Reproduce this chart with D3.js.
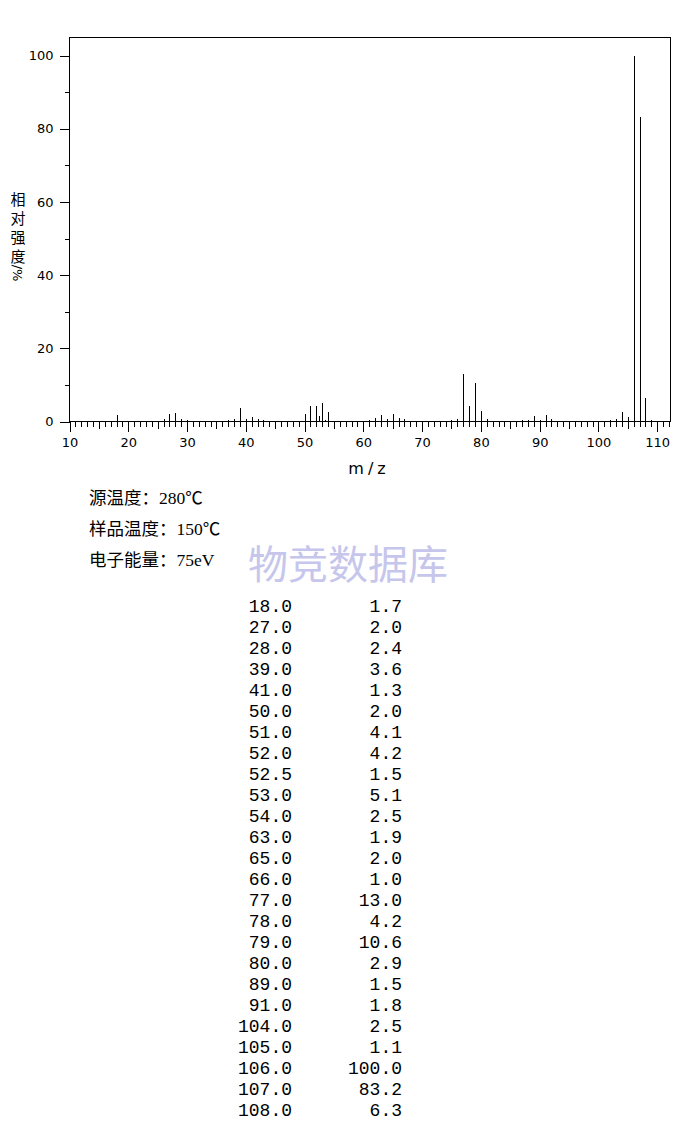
<!DOCTYPE html>
<html>
<head>
<meta charset="utf-8">
<script src="https://cdn.jsdelivr.net/npm/d3@7/dist/d3.min.js"></script>
<style>
  html, body { margin: 0; padding: 0; background: #fff; }
  svg { display: block; }
</style>
</head>
<body>
<svg id="chart" width="696" height="1134"></svg>
<script>
// ---- data ----
const tableMz = [18.0, 27.0, 28.0, 39.0, 41.0, 50.0, 51.0, 52.0, 52.5, 53.0, 54.0, 63.0, 65.0, 66.0, 77.0, 78.0, 79.0, 80.0, 89.0, 91.0, 104.0, 105.0, 106.0, 107.0, 108.0];
const tableIntensity = [1.7, 2.0, 2.4, 3.6, 1.3, 2.0, 4.1, 4.2, 1.5, 5.1, 2.5, 1.9, 2.0, 1.0, 13.0, 4.2, 10.6, 2.9, 1.5, 1.8, 2.5, 1.1, 100.0, 83.2, 6.3];
// small unlisted peaks
const minorMz = [26, 29, 30, 37, 38, 40, 42, 43, 53.5, 61, 62, 64, 67, 75, 76, 81, 87, 88, 90, 92, 102, 103, 109];
const minorIntensity = [0.7, 0.8, 0.5, 0.4, 0.6, 0.6, 0.7, 0.5, 0.5, 0.4, 0.9, 0.7, 0.6, 0.4, 0.7, 0.8, 0.4, 0.5, 0.4, 0.6, 0.3, 0.6, 0.5];
const yMajorTicks = [0, 20, 40, 60, 80, 100];
const yMinorTicks = [10, 30, 50, 70, 90];
const xMajorTicks = [10, 20, 30, 40, 50, 60, 70, 80, 90, 100, 110];
const xMidTicks = [15, 25, 35, 45, 55, 65, 75, 85, 95, 105];
const xMinorTicks = d3.range(10, 113, 1);
const infoLines = ["源温度：280℃", "样品温度：150℃", "电子能量：75eV"];
const yLabelChars = ["相", "对", "强", "度"];
const yLabelUnit = "/%";
const xTitle = "m/z";
const watermark = "物竞数据库";

// ---- layout ----
const svg = d3.select("#chart");
svg.append("rect").attr("width", 696).attr("height", 1134).attr("fill", "#fff");

const x = d3.scaleLinear().domain([10, 112.3]).range([69.5, 670.7]);
const y = d3.scaleLinear().domain([0, 100]).range([421.5, 55.5]);
const yTop = y(105);

const g = svg.append("g").attr("shape-rendering", "crispEdges");

// frame (top & right)
g.append("path")
  .attr("d", `M${x(10)},${yTop}H${670.5}V${y(0)}`)
  .attr("fill", "none").attr("stroke", "#000").attr("stroke-width", 1);

// peaks
const peaks = tableMz.map((m, i) => ({ m, v: tableIntensity[i] }))
  .concat(minorMz.map((m, i) => ({ m, v: minorIntensity[i] })));
g.selectAll("line.peak").data(peaks).join("line")
  .attr("class", "peak")
  .attr("x1", d => Math.round(x(d.m)) + 0.5).attr("x2", d => Math.round(x(d.m)) + 0.5)
  .attr("y1", y(0)).attr("y2", d => y(d.v))
  .attr("stroke", "#000").attr("stroke-width", 1);

function styleAxis(sel) {
  sel.select(".domain").attr("stroke", "#000");
  sel.selectAll(".tick line").attr("stroke", "#000");
  sel.selectAll(".tick text").attr("fill", "#000")
    .attr("font-family", "DejaVu Sans, Verdana, sans-serif").attr("font-size", 13);
}

// x axis
const xMinor = g.append("g").attr("transform", `translate(0,${y(0)})`)
  .call(d3.axisBottom(x).tickValues(xMinorTicks).tickSize(5).tickFormat("").tickSizeOuter(0));
xMinor.select(".domain").remove();
xMinor.selectAll(".tick line").attr("stroke", "#000");
const xMid = g.append("g").attr("transform", `translate(0,${y(0)})`)
  .call(d3.axisBottom(x).tickValues(xMidTicks).tickSize(7).tickFormat("").tickSizeOuter(0));
xMid.select(".domain").remove();
xMid.selectAll(".tick line").attr("stroke", "#000");
const xAx = g.append("g").attr("transform", `translate(0,${y(0)})`)
  .call(d3.axisBottom(x).tickValues(xMajorTicks).tickSize(10).tickPadding(6).tickSizeOuter(0));
xAx.select(".domain").attr("d", `M${x(10)},0H670.5`);
styleAxis(xAx);

// y axis
const yMinor = g.append("g").attr("transform", `translate(${x(10)},0)`)
  .call(d3.axisLeft(y).tickValues(yMinorTicks).tickSize(5).tickFormat("").tickSizeOuter(0));
yMinor.select(".domain").remove();
yMinor.selectAll(".tick line").attr("stroke", "#000");
const yAx = g.append("g").attr("transform", `translate(${x(10)},0)`)
  .call(d3.axisLeft(y).tickValues(yMajorTicks).tickSize(10).tickPadding(6).tickSizeOuter(0));
yAx.select(".domain").attr("d", `M0,${yTop}V${y(0)}`);
styleAxis(yAx);

// axis titles
svg.append("text").attr("x", 369).attr("y", 474).attr("text-anchor", "middle")
  .attr("font-family", "DejaVu Sans, sans-serif").attr("font-size", 16)
  .attr("letter-spacing", 4).text(xTitle);

const yl = svg.append("g").attr("font-family", "Noto Sans CJK SC, sans-serif").attr("font-size", 15).attr("fill", "#000");
yLabelChars.forEach((c, i) => {
  yl.append("text").attr("x", 18).attr("y", 205 + i * 19).attr("text-anchor", "middle").text(c);
});
yl.append("text").attr("transform", `translate(13,273) rotate(90)`)
  .attr("text-anchor", "middle").attr("font-family", "DejaVu Sans, sans-serif").attr("font-size", 13).text(yLabelUnit);

// info lines
svg.append("g").selectAll("text").data(infoLines).join("text")
  .attr("x", 89).attr("y", (d, i) => 504 + i * 31)
  .attr("font-family", "Liberation Serif, Noto Sans CJK SC, serif").attr("font-size", 17.5)
  .attr("fill", "#000").text(d => d);

// watermark
svg.append("text").attr("x", 348).attr("y", 579).attr("text-anchor", "middle")
  .attr("font-family", "Noto Sans CJK SC, sans-serif").attr("font-size", 40)
  .attr("fill", "#c6c6ec").text(watermark);

// table
const tbl = svg.append("g").attr("font-family", "Liberation Mono, Courier New, monospace")
  .attr("font-size", 18).attr("fill", "#000");
tbl.selectAll("text.c1").data(tableMz).join("text").attr("class", "c1")
  .attr("x", 292).attr("y", (d, i) => 612 + i * 21).attr("text-anchor", "end")
  .text(d => d.toFixed(1));
tbl.selectAll("text.c2").data(tableIntensity).join("text").attr("class", "c2")
  .attr("x", 402).attr("y", (d, i) => 612 + i * 21).attr("text-anchor", "end")
  .text(d => d.toFixed(1));
</script>
</body>
</html>
